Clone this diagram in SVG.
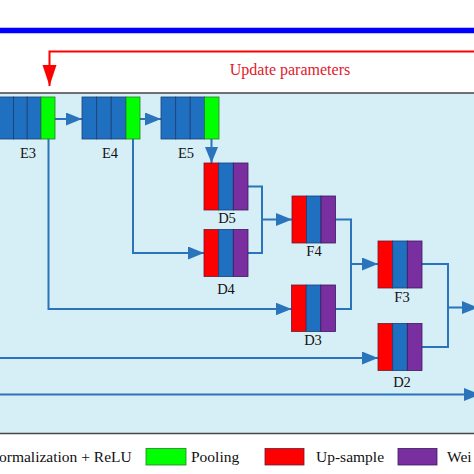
<svg xmlns="http://www.w3.org/2000/svg" width="474" height="474" viewBox="0 0 474 474">
<defs>
<style>
.lbl{font-family:"Liberation Serif","Times New Roman",serif;font-size:14.5px;fill:#111;text-anchor:middle}
.leg{font-family:"Liberation Serif","Times New Roman",serif;font-size:15.5px;fill:#111}
.b{fill:#1f70c1;stroke:#1b3f73;stroke-width:0.8}
.g{fill:#00ff00;stroke:#2a7a2a;stroke-width:0.8}
.r{fill:#ff0000;stroke:#6b1a3a;stroke-width:0.8}
.p{fill:#7a2fa0;stroke:#3a1a5a;stroke-width:0.8}
.c{fill:none;stroke:#2a74bb;stroke-width:2}
</style>
<marker id="ah" markerUnits="userSpaceOnUse" markerWidth="17" markerHeight="14" refX="16" refY="6.5" orient="auto">
<path d="M0,0 L16,6.5 L0,13 z" fill="#2a74bb"/>
</marker>
<marker id="rh" markerUnits="userSpaceOnUse" markerWidth="22" markerHeight="15" refX="21" refY="7" orient="auto">
<path d="M0,0 L21,7 L0,14 z" fill="#ff0000"/>
</marker>
</defs>
<rect width="474" height="474" fill="#ffffff"/>
<line x1="0" y1="30.5" x2="474" y2="30.5" stroke="#0000ff" stroke-width="5.5"/>
<g id="feedback">
<polyline points="474,51.5 49.5,51.5 49.5,86" fill="none" stroke="#ff0000" stroke-width="2" marker-end="url(#rh)"/>
<text x="290" y="75" font-family="Liberation Serif,Times New Roman,serif" font-size="16" fill="#e0202a" text-anchor="middle">Update parameters</text>
</g>
<rect id="panel" x="-5" y="93" width="484" height="340.5" fill="#d6eef6" stroke="#474747" stroke-width="1.5"/>
<g id="connectors">
<line class="c" x1="55" y1="119" x2="82" y2="119" marker-end="url(#ah)"/>
<line class="c" x1="140" y1="119" x2="161" y2="119" marker-end="url(#ah)"/>
<line class="c" x1="211.5" y1="139" x2="211.5" y2="163" marker-end="url(#ah)"/>
<polyline class="c" points="133,139 133,253 204,253" marker-end="url(#ah)"/>
<polyline class="c" points="48.5,139 48.5,309 291.5,309" marker-end="url(#ah)"/>
<polyline class="c" points="248,186.5 262,186.5 262,253 248,253"/>
<line class="c" x1="262" y1="219.5" x2="292" y2="219.5" marker-end="url(#ah)"/>
<polyline class="c" points="335.5,219.5 351,219.5 351,309 335.5,309"/>
<line class="c" x1="351" y1="264" x2="378" y2="264" marker-end="url(#ah)"/>
<polyline class="c" points="422,264 448,264 448,347 422,347"/>
<line class="c" x1="448" y1="307.5" x2="478" y2="307.5" marker-end="url(#ah)"/>
<line class="c" x1="0" y1="358" x2="378" y2="358" marker-end="url(#ah)"/>
<line class="c" x1="0" y1="394.5" x2="480" y2="394.5" marker-end="url(#ah)"/>
</g>
<g id="E3">
<rect class="b" x="-0.5" y="97" width="14" height="42"/>
<rect class="b" x="13.5" y="97" width="13.7" height="42"/>
<rect class="b" x="27.2" y="97" width="13.8" height="42"/>
<rect class="g" x="41" y="97" width="14" height="42"/>
<text class="lbl" x="28" y="158">E3</text>
</g>
<g id="E4">
<rect class="b" x="82" y="97" width="14.7" height="42"/>
<rect class="b" x="96.7" y="97" width="14.5" height="42"/>
<rect class="b" x="111.2" y="97" width="14.8" height="42"/>
<rect class="g" x="126" y="97" width="14" height="42"/>
<text class="lbl" x="110" y="158">E4</text>
</g>
<g id="E5">
<rect class="b" x="161" y="97" width="14.7" height="42"/>
<rect class="b" x="175.7" y="97" width="14.5" height="42"/>
<rect class="b" x="190.2" y="97" width="14.3" height="42"/>
<rect class="g" x="204.5" y="97" width="14.5" height="42"/>
<text class="lbl" x="186" y="158">E5</text>
</g>
<g id="D5">
<rect class="r" x="204" y="163" width="14.7" height="47"/>
<rect class="b" x="218.7" y="163" width="14.6" height="47"/>
<rect class="p" x="233.3" y="163" width="14.7" height="47"/>
<text class="lbl" x="227" y="223">D5</text>
</g>
<g id="D4">
<rect class="r" x="204" y="229.5" width="14.7" height="47"/>
<rect class="b" x="218.7" y="229.5" width="14.6" height="47"/>
<rect class="p" x="233.3" y="229.5" width="14.7" height="47"/>
<text class="lbl" x="226" y="294">D4</text>
</g>
<g id="F4">
<rect class="r" x="292" y="196" width="14.5" height="47"/>
<rect class="b" x="306.5" y="196" width="14.5" height="47"/>
<rect class="p" x="321" y="196" width="14.5" height="47"/>
<text class="lbl" x="314" y="256">F4</text>
</g>
<g id="D3">
<rect class="r" x="291.5" y="285" width="14.7" height="46.5"/>
<rect class="b" x="306.2" y="285" width="14.6" height="46.5"/>
<rect class="p" x="320.8" y="285" width="14.7" height="46.5"/>
<text class="lbl" x="313" y="345">D3</text>
</g>
<g id="F3">
<rect class="r" x="378" y="241" width="14.7" height="47"/>
<rect class="b" x="392.7" y="241" width="14.6" height="47"/>
<rect class="p" x="407.3" y="241" width="14.7" height="47"/>
<text class="lbl" x="402" y="302">F3</text>
</g>
<g id="D2">
<rect class="r" x="378" y="323.5" width="14.7" height="47"/>
<rect class="b" x="392.7" y="323.5" width="14.6" height="47"/>
<rect class="p" x="407.3" y="323.5" width="14.7" height="47"/>
<text class="lbl" x="402" y="387">D2</text>
</g>
<g id="legend">
<text class="leg" x="-1" y="462">ormalization + ReLU</text>
<rect x="146" y="448.5" width="40" height="16.5" fill="#00ff00" stroke="#2a7a2a" stroke-width="0.8"/>
<text class="leg" x="191" y="462">Pooling</text>
<rect x="265" y="448.5" width="39" height="16.5" fill="#ff0000" stroke="#6b1a3a" stroke-width="0.8"/>
<text class="leg" x="316" y="462">Up-sample</text>
<rect x="398" y="448.5" width="39" height="16.5" fill="#7a2fa0" stroke="#3a1a5a" stroke-width="0.8"/>
<text class="leg" x="447" y="462">Wei</text>
</g>
</svg>
